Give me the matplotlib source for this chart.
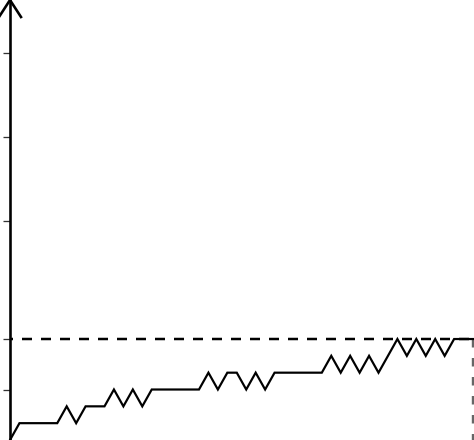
import matplotlib
matplotlib.use("Agg")
import matplotlib.pyplot as plt

# Data: a lattice path (time step, level)
t_values = [0, 1, 5, 6, 7, 8, 10, 11, 12, 13, 14, 15, 20, 21, 22, 23, 24, 25,
            26, 27, 28, 33, 34, 35, 36, 37, 38, 39, 40, 41, 42, 43, 44, 45, 46,
            47, 49]
levels = [0, 1, 1, 2, 1, 2, 2, 3, 2, 3, 2, 3, 3, 4, 3, 4, 4, 3,
          4, 3, 4, 4, 5, 4, 5, 4, 5, 4, 5, 6, 5, 6, 5, 6, 5,
          6, 6]
barrier_level = 6
end_time = 49
y_ticks = [3, 6, 13, 18, 23]

plt.rcParams['lines.scale_dashes'] = False
PX = 0.72  # points per pixel at dpi 100

fig = plt.figure(figsize=(4.74, 4.40), dpi=100)
ax = fig.add_axes([0, 0, 1, 1])
x_min, x_max = -10 / 9.449, (474 - 10) / 9.449
y_min, y_max = 0, 440 / 16.83
ax.set_xlim(x_min, x_max)
ax.set_ylim(y_min, y_max)

for s in ['top', 'right', 'bottom']:
    ax.spines[s].set_visible(False)
ax.spines['left'].set_position(('data', 0))
ax.spines['left'].set_linewidth(2.6 * PX)
ax.spines['left'].set_color('black')
ax.spines['left'].set_zorder(5)
ax.set_xticks([])
ax.set_yticks(y_ticks)
ax.set_yticklabels([])
ax.tick_params(axis='y', direction='out', length=7 * PX, width=1.3 * PX, color='#333333')

# arrow head at top of axis
dx = 11 / 9.449
dy = 17 / 16.83
ax.plot([-dx, 0, dx], [y_max - dy, y_max, y_max - dy], color='black',
        lw=2.6 * PX, solid_joinstyle='miter', clip_on=False, zorder=6)

# barrier dashed horizontal line
ax.plot([0, end_time], [barrier_level, barrier_level], color='black',
        lw=2.5 * PX, linestyle=(7 * PX, (10 * PX, 9 * PX)), zorder=2)
# vertical gray dashed line at end
ax.plot([end_time, end_time], [barrier_level, y_min], color='#666666',
        lw=2.4 * PX, linestyle=(0, (8.5 * PX, 10.5 * PX)), zorder=2)

# path
ax.plot(t_values, levels, color='black', lw=2.2 * PX, zorder=3,
        solid_joinstyle='miter', clip_on=False)

fig.savefig('out.png', dpi=100)
